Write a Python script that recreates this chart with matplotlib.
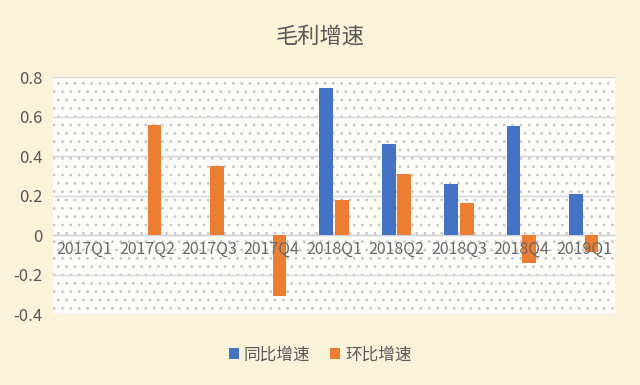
import matplotlib
matplotlib.use("Agg")
import matplotlib.pyplot as plt
import numpy as np
from matplotlib.patches import Rectangle

plt.rcParams['font.family'] = ['Noto Sans CJK SC', 'DejaVu Sans']
plt.rcParams['hatch.color'] = '#b8bcc6'
plt.rcParams['hatch.linewidth'] = 0.8

categories = ['2017Q1', '2017Q2', '2017Q3', '2017Q4', '2018Q1', '2018Q2', '2018Q3', '2018Q4', '2019Q1']
yoy = [np.nan, np.nan, np.nan, np.nan, 0.743, 0.463, 0.258, 0.551, 0.206]
qoq = [np.nan, 0.559, 0.349, -0.308, 0.177, 0.308, 0.160, -0.143, -0.084]
series_names = ['同比增速', '环比增速']
yticks = [-0.4, -0.2, 0, 0.2, 0.4, 0.6, 0.8]
ytick_labels = ['-0.4', '-0.2', '0', '0.2', '0.4', '0.6', '0.8']

bg = '#fbf2da'
fig = plt.figure(figsize=(6.4, 3.85), dpi=100, facecolor=bg)
ax = fig.add_axes([0.083, 0.184, 0.878, 0.616])
ax.set_facecolor('#fdfcf8')
ax.add_patch(Rectangle((0, 0), 1, 1, transform=ax.transAxes, facecolor='none',
                       edgecolor='#c4c8d0', hatch='..', linewidth=0, zorder=0))

x = np.arange(len(categories))
w = 0.22
gap = 0.03
ax.bar(x - w / 2 - gap / 2, yoy, width=w, color='#4472c4', label=series_names[0], zorder=3)
ax.bar(x + w / 2 + gap / 2, qoq, width=w, color='#ed7d31', label=series_names[1], zorder=3)

ax.set_xlim(-0.5, len(categories) - 0.5)
ax.set_ylim(-0.4, 0.8)
ax.set_yticks(yticks)
ax.set_yticklabels(ytick_labels)
ax.grid(axis='y', color='#d6d8dc', linewidth=1.0, zorder=1)
ax.axhline(0, color='#d0d2d6', linewidth=1.0, zorder=2)
for s in ax.spines.values():
    s.set_visible(False)
ax.tick_params(axis='both', length=0, colors='#595959', labelsize=12)
ax.tick_params(axis='y', pad=8)
ax.set_xticks(x)
ax.set_xticklabels([])
for xi, lab in zip(x, categories):
    ax.text(xi, -0.028, lab, ha='center', va='top', fontsize=11.5, color='#6a6a6a',
            zorder=4)

fig.text(0.5, 0.905, '毛利增速', ha='center', va='center', fontsize=16, color='#595959')

handles, labels = ax.get_legend_handles_labels()
leg = fig.legend(handles, labels, loc='center', bbox_to_anchor=(0.5, 0.078), ncol=2,
                 frameon=False, fontsize=12, handlelength=0.6, handleheight=0.6,
                 handletextpad=0.3, columnspacing=1.2, labelcolor='#595959')

fig.savefig('out.png', dpi=100, facecolor=bg)
